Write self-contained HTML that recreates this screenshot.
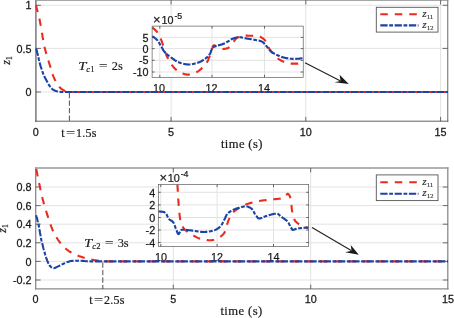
<!DOCTYPE html>
<html><head><meta charset="utf-8"><title>plot</title>
<style>html,body{margin:0;padding:0;background:#fff}body{width:454px;height:318px;overflow:hidden}</style></head>
<body>
<svg width="454" height="318" viewBox="0 0 454 318" style="display:block">
<rect width="454" height="318" fill="#fff"/>
<line x1="171.1" y1="0.3" x2="171.1" y2="121.3" stroke="#e3e3e3" stroke-width="1"/>
<line x1="305.8" y1="0.3" x2="305.8" y2="121.3" stroke="#e3e3e3" stroke-width="1"/>
<line x1="440.6" y1="0.3" x2="440.6" y2="121.3" stroke="#e3e3e3" stroke-width="1"/>
<line x1="35.9" y1="5.3" x2="448.0" y2="5.3" stroke="#e3e3e3" stroke-width="1"/>
<line x1="35.9" y1="48.4" x2="448.0" y2="48.4" stroke="#e3e3e3" stroke-width="1"/>
<line x1="35.9" y1="92.0" x2="448.0" y2="92.0" stroke="#e3e3e3" stroke-width="1"/>
<line x1="173.3" y1="168.2" x2="173.3" y2="289.0" stroke="#e3e3e3" stroke-width="1"/>
<line x1="310.7" y1="168.2" x2="310.7" y2="289.0" stroke="#e3e3e3" stroke-width="1"/>
<line x1="35.9" y1="187.0" x2="448.0" y2="187.0" stroke="#e3e3e3" stroke-width="1"/>
<line x1="35.9" y1="205.6" x2="448.0" y2="205.6" stroke="#e3e3e3" stroke-width="1"/>
<line x1="35.9" y1="224.2" x2="448.0" y2="224.2" stroke="#e3e3e3" stroke-width="1"/>
<line x1="35.9" y1="242.8" x2="448.0" y2="242.8" stroke="#e3e3e3" stroke-width="1"/>
<line x1="35.9" y1="261.4" x2="448.0" y2="261.4" stroke="#e3e3e3" stroke-width="1"/>
<line x1="35.9" y1="280.0" x2="448.0" y2="280.0" stroke="#e3e3e3" stroke-width="1"/>
<line x1="35.9" y1="-0.45" x2="35.9" y2="121.675" stroke="#828286" stroke-width="1.6"/>
<line x1="447.7" y1="-0.45" x2="447.7" y2="121.675" stroke="#8a8a8a" stroke-width="1.3"/>
<line x1="35.1" y1="0.2" x2="448.34999999999997" y2="0.2" stroke="#8a8a8a" stroke-width="1.3"/>
<line x1="35.1" y1="121.2" x2="448.34999999999997" y2="121.2" stroke="#5a5a5a" stroke-width="0.95"/>
<line x1="171.1" y1="121.2" x2="171.1" y2="116.9" stroke="#4a4a4a" stroke-width="0.8"/>
<line x1="171.1" y1="0.2" x2="171.1" y2="4.5" stroke="#4a4a4a" stroke-width="0.8"/>
<line x1="305.8" y1="121.2" x2="305.8" y2="116.9" stroke="#4a4a4a" stroke-width="0.8"/>
<line x1="305.8" y1="0.2" x2="305.8" y2="4.5" stroke="#4a4a4a" stroke-width="0.8"/>
<line x1="440.6" y1="121.2" x2="440.6" y2="116.9" stroke="#4a4a4a" stroke-width="0.8"/>
<line x1="440.6" y1="0.2" x2="440.6" y2="4.5" stroke="#4a4a4a" stroke-width="0.8"/>
<line x1="35.9" y1="5.3" x2="40.9" y2="5.3" stroke="#4a4a4a" stroke-width="0.8"/>
<line x1="447.7" y1="5.3" x2="442.7" y2="5.3" stroke="#4a4a4a" stroke-width="0.8"/>
<line x1="35.9" y1="48.4" x2="40.9" y2="48.4" stroke="#4a4a4a" stroke-width="0.8"/>
<line x1="447.7" y1="48.4" x2="442.7" y2="48.4" stroke="#4a4a4a" stroke-width="0.8"/>
<line x1="35.9" y1="92.0" x2="40.9" y2="92.0" stroke="#4a4a4a" stroke-width="0.8"/>
<line x1="447.7" y1="92.0" x2="442.7" y2="92.0" stroke="#4a4a4a" stroke-width="0.8"/>
<line x1="35.7" y1="167.35" x2="35.7" y2="289.54999999999995" stroke="#8a8a8a" stroke-width="1.3"/>
<line x1="447.8" y1="167.35" x2="447.8" y2="289.54999999999995" stroke="#8a8a8a" stroke-width="1.3"/>
<line x1="35.050000000000004" y1="168.0" x2="448.45" y2="168.0" stroke="#999" stroke-width="1.3"/>
<line x1="35.050000000000004" y1="288.9" x2="448.45" y2="288.9" stroke="#8a8a8a" stroke-width="1.3"/>
<line x1="173.3" y1="288.9" x2="173.3" y2="284.59999999999997" stroke="#4a4a4a" stroke-width="0.8"/>
<line x1="173.3" y1="168.0" x2="173.3" y2="172.3" stroke="#4a4a4a" stroke-width="0.8"/>
<line x1="310.7" y1="288.9" x2="310.7" y2="284.59999999999997" stroke="#4a4a4a" stroke-width="0.8"/>
<line x1="310.7" y1="168.0" x2="310.7" y2="172.3" stroke="#4a4a4a" stroke-width="0.8"/>
<line x1="35.7" y1="187.0" x2="40.7" y2="187.0" stroke="#4a4a4a" stroke-width="0.8"/>
<line x1="447.8" y1="187.0" x2="442.8" y2="187.0" stroke="#4a4a4a" stroke-width="0.8"/>
<line x1="35.7" y1="205.6" x2="40.7" y2="205.6" stroke="#4a4a4a" stroke-width="0.8"/>
<line x1="447.8" y1="205.6" x2="442.8" y2="205.6" stroke="#4a4a4a" stroke-width="0.8"/>
<line x1="35.7" y1="224.2" x2="40.7" y2="224.2" stroke="#4a4a4a" stroke-width="0.8"/>
<line x1="447.8" y1="224.2" x2="442.8" y2="224.2" stroke="#4a4a4a" stroke-width="0.8"/>
<line x1="35.7" y1="242.8" x2="40.7" y2="242.8" stroke="#4a4a4a" stroke-width="0.8"/>
<line x1="447.8" y1="242.8" x2="442.8" y2="242.8" stroke="#4a4a4a" stroke-width="0.8"/>
<line x1="35.7" y1="261.4" x2="40.7" y2="261.4" stroke="#4a4a4a" stroke-width="0.8"/>
<line x1="447.8" y1="261.4" x2="442.8" y2="261.4" stroke="#4a4a4a" stroke-width="0.8"/>
<line x1="35.7" y1="280.0" x2="40.7" y2="280.0" stroke="#4a4a4a" stroke-width="0.8"/>
<line x1="447.8" y1="280.0" x2="442.8" y2="280.0" stroke="#4a4a4a" stroke-width="0.8"/>
<g font-family="'Liberation Sans',sans-serif" font-size="10.8" text-anchor="middle" fill="#1a1a1a" stroke="#1a1a1a" stroke-width="0.22"><text x="159.1" y="91.7">10</text><text x="211.6" y="91.7">12</text><text x="264.1" y="91.7">14</text><text x="160.9" y="261.3">10</text><text x="217.1" y="261.3">12</text><text x="273.5" y="261.3">14</text></g>
<line x1="69.4" y1="93" x2="69.4" y2="121.3" stroke="#3a3a3a" stroke-width="0.9" stroke-dasharray="5.3 2.2"/>
<line x1="102.8" y1="262.4" x2="102.8" y2="289.0" stroke="#3a3a3a" stroke-width="0.9" stroke-dasharray="5.3 2.2"/>
<defs><clipPath id="c1"><rect x="34.9" y="-0.7" width="413.40000000000003" height="122.0"/></clipPath><clipPath id="c2"><rect x="34.9" y="167.2" width="413.40000000000003" height="121.80000000000001"/></clipPath>
<clipPath id="i1"><rect x="152.1" y="26.1" width="151.1" height="51.2"/></clipPath><clipPath id="i2"><rect x="158.3" y="184.6" width="150.4" height="61.9"/></clipPath></defs>
<path d="M36.0,5.3 L36.4,6.8 L36.8,8.4 L37.2,9.9 L37.6,11.5 L38.0,13.0 L38.4,14.5 L38.8,16.1 L39.1,17.6 L39.5,19.2 L39.8,20.7 L40.1,22.3 L40.4,23.9 L40.7,25.4 L40.9,27.0 L41.2,28.6 L41.5,30.1 L41.7,31.7 L42.0,33.3 L42.3,34.8 L42.5,36.4 L42.8,38.0 L43.1,39.5 L43.4,41.1 L43.7,42.7 L44.0,44.2 L44.3,45.8 L44.6,47.3 L45.0,48.9 L45.4,50.4 L45.8,52.0 L46.2,53.5 L46.7,55.0 L47.2,56.5 L47.6,58.1 L48.1,59.6 L48.6,61.1 L49.0,62.6 L49.5,64.1 L50.0,65.7 L50.4,67.2 L50.9,68.7 L51.4,70.2 L51.9,71.7 L52.3,73.3 L52.8,74.8 L53.4,76.3 L54.0,77.7 L54.6,79.2 L55.3,80.6 L56.1,82.1 L56.9,83.4 L57.7,84.8 L58.6,86.1 L59.7,87.3 L60.8,88.4 L62.0,89.4 L63.4,90.2 L64.9,90.9 L66.4,91.5 L67.9,91.8 L69.5,91.9 L71.1,92.0 L72.7,92.0 L74.3,92.0 L75.8,92.0 L77.4,92.0 L79.0,92.0 L80.6,92.0 L82.2,92.0 L83.8,92.0 L85.4,92.0 L87.0,92.0 L88.6,92.0 L90.1,92.0 L91.7,92.0 L93.3,92.0 L94.9,92.0 L96.5,92.0 L98.1,92.0 L99.7,92.0 L101.3,92.0 L102.9,92.0 L104.4,92.0 L106.0,92.0 L107.6,92.0 L109.2,92.0 L110.8,92.0 L112.4,92.0 L114.0,92.0 L115.6,92.0 L117.2,92.0 L118.8,92.0 L120.3,92.0 L121.9,92.0 L123.5,92.0 L125.1,92.0 L126.7,92.0 L128.3,92.0 L129.9,92.0 L131.5,92.0 L133.1,92.0 L134.6,92.0 L136.2,92.0 L137.8,92.0 L139.4,92.0 L141.0,92.0 L142.6,92.0 L144.2,92.0 L145.8,92.0 L147.4,92.0 L149.0,92.0 L150.5,92.0 L152.1,92.0 L153.7,92.0 L155.3,92.0 L156.9,92.0 L158.5,92.0 L160.1,92.0 L161.7,92.0 L163.3,92.0 L164.9,92.0 L166.4,92.0 L168.0,92.0 L169.6,92.0 L171.2,92.0 L172.8,92.0 L174.4,92.0 L176.0,92.0 L177.6,92.0 L179.2,92.0 L180.7,92.0 L182.3,92.0 L183.9,92.0 L185.5,92.0 L187.1,92.0 L188.7,92.0 L190.3,92.0 L191.9,92.0 L193.5,92.0 L195.1,92.0 L196.6,92.0 L198.2,92.0 L199.8,92.0 L201.4,92.0 L203.0,92.0 L204.6,92.0 L206.2,92.0 L207.8,92.0 L209.4,92.0 L211.0,92.0 L212.5,92.0 L214.1,92.0 L215.7,92.0 L217.3,92.0 L218.9,92.0 L220.5,92.0 L222.1,92.0 L223.7,92.0 L225.3,92.0 L226.9,92.0 L228.4,92.0 L230.0,92.0 L231.6,92.0 L233.2,92.0 L234.8,92.0 L236.4,92.0 L238.0,92.0 L239.6,92.0 L241.2,92.0 L242.8,92.0 L244.3,92.0 L245.9,92.0 L247.5,92.0 L249.1,92.0 L250.7,92.0 L252.3,92.0 L253.9,92.0 L255.5,92.0 L257.1,92.0 L258.7,92.0 L260.2,92.0 L261.8,92.0 L263.4,92.0 L265.0,92.0 L266.6,92.0 L268.2,92.0 L269.8,92.0 L271.4,92.0 L273.0,92.0 L274.6,92.0 L276.2,92.0 L277.7,92.0 L279.3,92.0 L280.9,92.0 L282.5,92.0 L284.1,92.0 L285.7,92.0 L287.3,92.0 L288.9,92.0 L290.5,92.0 L292.1,92.0 L293.6,92.0 L295.2,92.0 L296.8,92.0 L298.4,92.0 L300.0,92.0 L301.6,92.0 L303.2,92.0 L304.8,92.0 L306.4,92.0 L308.0,92.0 L309.6,92.0 L311.1,92.0 L312.7,92.0 L314.3,92.0 L315.9,92.0 L317.5,92.0 L319.1,92.0 L320.7,92.0 L322.3,92.0 L323.9,92.0 L325.5,92.0 L327.1,92.0 L328.6,92.0 L330.2,92.0 L331.8,92.0 L333.4,92.0 L335.0,92.0 L336.6,92.0 L338.2,92.0 L339.8,92.0 L341.4,92.0 L343.0,92.0 L344.6,92.0 L346.1,92.0 L347.7,92.0 L349.3,92.0 L350.9,92.0 L352.5,92.0 L354.1,92.0 L355.7,92.0 L357.3,92.0 L358.9,92.0 L360.5,92.0 L362.1,92.0 L363.6,92.0 L365.2,92.0 L366.8,92.0 L368.4,92.0 L370.0,92.0 L371.6,92.0 L373.2,92.0 L374.8,92.0 L376.4,92.0 L378.0,92.0 L379.6,92.0 L381.1,92.0 L382.7,92.0 L384.3,92.0 L385.9,92.0 L387.5,92.0 L389.1,92.0 L390.7,92.0 L392.3,92.0 L393.9,92.0 L395.5,92.0 L397.1,92.0 L398.7,92.0 L400.2,92.0 L401.8,92.0 L403.4,92.0 L405.0,92.0 L406.6,92.0 L408.2,92.0 L409.8,92.0 L411.4,92.0 L413.0,92.0 L414.6,92.0 L416.2,92.0 L417.8,92.0 L419.3,92.0 L420.9,92.0 L422.5,92.0 L424.1,92.0 L425.7,92.0 L427.3,92.0 L428.9,92.0 L430.5,92.0 L432.1,92.0 L433.7,92.0 L435.3,92.0 L436.9,92.0 L438.4,92.0 L440.0,92.0 L441.6,92.0 L443.2,92.0 L444.8,92.0 L446.4,92.0 L448.0,92.0" fill="none" stroke="#ec2b1d" stroke-width="2.1" stroke-dasharray="7.5 6.8" stroke-dashoffset="0.56" stroke-linejoin="round" clip-path="url(#c1)"/>
<path d="M36.0,48.3 L36.5,49.7 L36.9,51.1 L37.2,52.5 L37.6,54.0 L38.0,55.4 L38.3,56.8 L38.6,58.3 L38.9,59.7 L39.3,61.2 L39.6,62.6 L40.0,64.0 L40.4,65.4 L40.8,66.8 L41.3,68.2 L41.7,69.6 L42.2,71.1 L42.7,72.4 L43.2,73.8 L43.7,75.2 L44.4,76.5 L45.0,77.8 L45.8,79.1 L46.5,80.4 L47.2,81.7 L47.9,83.0 L48.6,84.3 L49.4,85.6 L50.2,86.7 L51.2,87.9 L52.2,89.0 L53.4,89.9 L54.6,90.5 L56.0,91.0 L57.5,91.4 L58.9,91.7 L60.4,91.9 L61.9,92.0 L63.4,92.0 L64.8,92.0 L66.3,92.0 L67.8,92.0 L69.2,92.0 L70.7,92.0 L72.2,92.0 L73.6,92.0 L75.1,92.0 L76.6,92.0 L78.0,92.0 L79.5,92.0 L81.0,92.0 L82.4,92.0 L83.9,92.0 L85.4,92.0 L86.8,92.0 L88.3,92.0 L89.8,92.0 L91.3,92.0 L92.7,92.0 L94.2,92.0 L95.7,92.0 L97.1,92.0 L98.6,92.0 L100.1,92.0 L101.5,92.0 L103.0,92.0 L104.5,92.0 L105.9,92.0 L107.4,92.0 L108.9,92.0 L110.3,92.0 L111.8,92.0 L113.3,92.0 L114.8,92.0 L116.2,92.0 L117.7,92.0 L119.2,92.0 L120.6,92.0 L122.1,92.0 L123.6,92.0 L125.0,92.0 L126.5,92.0 L128.0,92.0 L129.4,92.0 L130.9,92.0 L132.4,92.0 L133.9,92.0 L135.3,92.0 L136.8,92.0 L138.3,92.0 L139.7,92.0 L141.2,92.0 L142.7,92.0 L144.1,92.0 L145.6,92.0 L147.1,92.0 L148.5,92.0 L150.0,92.0 L151.5,92.0 L153.0,92.0 L154.4,92.0 L155.9,92.0 L157.4,92.0 L158.8,92.0 L160.3,92.0 L161.8,92.0 L163.2,92.0 L164.7,92.0 L166.2,92.0 L167.7,92.0 L169.1,92.0 L170.6,92.0 L172.1,92.0 L173.5,92.0 L175.0,92.0 L176.5,92.0 L178.0,92.0 L179.4,92.0 L180.9,92.0 L182.4,92.0 L183.8,92.0 L185.3,92.0 L186.8,92.0 L188.2,92.0 L189.7,92.0 L191.2,92.0 L192.7,92.0 L194.1,92.0 L195.6,92.0 L197.1,92.0 L198.5,92.0 L200.0,92.0 L201.5,92.0 L203.0,92.0 L204.4,92.0 L205.9,92.0 L207.4,92.0 L208.8,92.0 L210.3,92.0 L211.8,92.0 L213.3,92.0 L214.7,92.0 L216.2,92.0 L217.7,92.0 L219.1,92.0 L220.6,92.0 L222.1,92.0 L223.6,92.0 L225.0,92.0 L226.5,92.0 L228.0,92.0 L229.4,92.0 L230.9,92.0 L232.4,92.0 L233.9,92.0 L235.3,92.0 L236.8,92.0 L238.3,92.0 L239.8,92.0 L241.2,92.0 L242.7,92.0 L244.2,92.0 L245.6,92.0 L247.1,92.0 L248.6,92.0 L250.1,92.0 L251.5,92.0 L253.0,92.0 L254.5,92.0 L256.0,92.0 L257.4,92.0 L258.9,92.0 L260.4,92.0 L261.8,92.0 L263.3,92.0 L264.8,92.0 L266.3,92.0 L267.7,92.0 L269.2,92.0 L270.7,92.0 L272.2,92.0 L273.6,92.0 L275.1,92.0 L276.6,92.0 L278.1,92.0 L279.5,92.0 L281.0,92.0 L282.5,92.0 L284.0,92.0 L285.4,92.0 L286.9,92.0 L288.4,92.0 L289.8,92.0 L291.3,92.0 L292.8,92.0 L294.3,92.0 L295.7,92.0 L297.2,92.0 L298.7,92.0 L300.2,92.0 L301.6,92.0 L303.1,92.0 L304.6,92.0 L306.1,92.0 L307.5,92.0 L309.0,92.0 L310.5,92.0 L312.0,92.0 L313.4,92.0 L314.9,92.0 L316.4,92.0 L317.9,92.0 L319.3,92.0 L320.8,92.0 L322.3,92.0 L323.8,92.0 L325.3,92.0 L326.7,92.0 L328.2,92.0 L329.7,92.0 L331.2,92.0 L332.6,92.0 L334.1,92.0 L335.6,92.0 L337.1,92.0 L338.5,92.0 L340.0,92.0 L341.5,92.0 L343.0,92.0 L344.4,92.0 L345.9,92.0 L347.4,92.0 L348.9,92.0 L350.4,92.0 L351.8,92.0 L353.3,92.0 L354.8,92.0 L356.3,92.0 L357.7,92.0 L359.2,92.0 L360.7,92.0 L362.2,92.0 L363.6,92.0 L365.1,92.0 L366.6,92.0 L368.1,92.0 L369.6,92.0 L371.0,92.0 L372.5,92.0 L374.0,92.0 L375.5,92.0 L377.0,92.0 L378.4,92.0 L379.9,92.0 L381.4,92.0 L382.9,92.0 L384.3,92.0 L385.8,92.0 L387.3,92.0 L388.8,92.0 L390.3,92.0 L391.7,92.0 L393.2,92.0 L394.7,92.0 L396.2,92.0 L397.7,92.0 L399.1,92.0 L400.6,92.0 L402.1,92.0 L403.6,92.0 L405.1,92.0 L406.5,92.0 L408.0,92.0 L409.5,92.0 L411.0,92.0 L412.5,92.0 L413.9,92.0 L415.4,92.0 L416.9,92.0 L418.4,92.0 L419.9,92.0 L421.3,92.0 L422.8,92.0 L424.3,92.0 L425.8,92.0 L427.3,92.0 L428.7,92.0 L430.2,92.0 L431.7,92.0 L433.2,92.0 L434.7,92.0 L436.1,92.0 L437.6,92.0 L439.1,92.0 L440.6,92.0 L442.1,92.0 L443.6,92.0 L445.0,92.0 L446.5,92.0 L448.0,92.0" fill="none" stroke="#1b43a5" stroke-width="2.1" stroke-dasharray="7.3 1.6 3.8 1.6" stroke-dashoffset="13.89" stroke-linejoin="round" clip-path="url(#c1)"/>
<path d="M36.0,167.6 L36.3,169.2 L36.6,170.7 L36.9,172.3 L37.2,173.8 L37.5,175.4 L37.8,176.9 L38.2,178.4 L38.5,180.0 L38.8,181.5 L39.1,183.1 L39.4,184.6 L39.8,186.2 L40.1,187.7 L40.4,189.3 L40.8,190.8 L41.1,192.4 L41.5,193.9 L41.8,195.4 L42.2,197.0 L42.5,198.5 L42.9,200.1 L43.3,201.6 L43.7,203.1 L44.1,204.6 L44.6,206.2 L45.0,207.7 L45.5,209.2 L46.0,210.7 L46.5,212.2 L46.9,213.7 L47.4,215.2 L47.9,216.7 L48.4,218.2 L48.8,219.7 L49.3,221.2 L49.8,222.7 L50.4,224.2 L50.9,225.7 L51.5,227.2 L52.1,228.6 L52.7,230.1 L53.3,231.5 L54.0,233.0 L54.7,234.4 L55.5,235.7 L56.3,237.1 L57.2,238.5 L58.0,239.8 L59.0,241.1 L59.9,242.3 L60.9,243.6 L61.9,244.8 L62.9,246.0 L64.0,247.2 L65.2,248.2 L66.4,249.2 L67.6,250.2 L68.9,251.1 L70.3,252.0 L71.6,252.8 L73.0,253.5 L74.4,254.2 L75.9,254.8 L77.4,255.4 L78.8,256.0 L80.3,256.5 L81.8,257.0 L83.3,257.5 L84.9,257.9 L86.4,258.3 L87.9,258.7 L89.5,259.0 L91.0,259.4 L92.6,259.7 L94.1,260.0 L95.7,260.2 L97.2,260.5 L98.8,260.9 L100.3,261.2 L101.9,261.4 L103.5,261.4 L105.1,261.4 L106.6,261.4 L108.2,261.4 L109.8,261.4 L111.4,261.4 L113.0,261.4 L114.5,261.4 L116.1,261.4 L117.7,261.4 L119.3,261.4 L120.9,261.4 L122.4,261.4 L124.0,261.4 L125.6,261.4 L127.2,261.4 L128.8,261.4 L130.4,261.4 L131.9,261.4 L133.5,261.4 L135.1,261.4 L136.7,261.4 L138.3,261.4 L139.8,261.4 L141.4,261.4 L143.0,261.4 L144.6,261.4 L146.2,261.4 L147.7,261.4 L149.3,261.4 L150.9,261.4 L152.5,261.4 L154.1,261.4 L155.6,261.4 L157.2,261.4 L158.8,261.4 L160.4,261.4 L162.0,261.4 L163.5,261.4 L165.1,261.4 L166.7,261.4 L168.3,261.4 L169.9,261.4 L171.4,261.4 L173.0,261.4 L174.6,261.4 L176.2,261.4 L177.8,261.4 L179.3,261.4 L180.9,261.4 L182.5,261.4 L184.1,261.4 L185.7,261.4 L187.2,261.4 L188.8,261.4 L190.4,261.4 L192.0,261.4 L193.6,261.4 L195.1,261.4 L196.7,261.4 L198.3,261.4 L199.9,261.4 L201.5,261.4 L203.0,261.4 L204.6,261.4 L206.2,261.4 L207.8,261.4 L209.4,261.4 L210.9,261.4 L212.5,261.4 L214.1,261.4 L215.7,261.4 L217.3,261.4 L218.8,261.4 L220.4,261.4 L222.0,261.4 L223.6,261.4 L225.2,261.4 L226.8,261.4 L228.3,261.4 L229.9,261.4 L231.5,261.4 L233.1,261.4 L234.7,261.4 L236.2,261.4 L237.8,261.4 L239.4,261.4 L241.0,261.4 L242.6,261.4 L244.1,261.4 L245.7,261.4 L247.3,261.4 L248.9,261.4 L250.5,261.4 L252.0,261.4 L253.6,261.4 L255.2,261.4 L256.8,261.4 L258.4,261.4 L259.9,261.4 L261.5,261.4 L263.1,261.4 L264.7,261.4 L266.3,261.4 L267.8,261.4 L269.4,261.4 L271.0,261.4 L272.6,261.4 L274.2,261.4 L275.7,261.4 L277.3,261.4 L278.9,261.4 L280.5,261.4 L282.1,261.4 L283.6,261.4 L285.2,261.4 L286.8,261.4 L288.4,261.4 L290.0,261.4 L291.5,261.4 L293.1,261.4 L294.7,261.4 L296.3,261.4 L297.9,261.4 L299.4,261.4 L301.0,261.4 L302.6,261.4 L304.2,261.4 L305.8,261.4 L307.3,261.4 L308.9,261.4 L310.5,261.4 L312.1,261.4 L313.7,261.4 L315.3,261.4 L316.8,261.4 L318.4,261.4 L320.0,261.4 L321.6,261.4 L323.2,261.4 L324.7,261.4 L326.3,261.4 L327.9,261.4 L329.5,261.4 L331.1,261.4 L332.6,261.4 L334.2,261.4 L335.8,261.4 L337.4,261.4 L339.0,261.4 L340.5,261.4 L342.1,261.4 L343.7,261.4 L345.3,261.4 L346.9,261.4 L348.4,261.4 L350.0,261.4 L351.6,261.4 L353.2,261.4 L354.8,261.4 L356.3,261.4 L357.9,261.4 L359.5,261.4 L361.1,261.4 L362.7,261.4 L364.2,261.4 L365.8,261.4 L367.4,261.4 L369.0,261.4 L370.6,261.4 L372.1,261.4 L373.7,261.4 L375.3,261.4 L376.9,261.4 L378.5,261.4 L380.0,261.4 L381.6,261.4 L383.2,261.4 L384.8,261.4 L386.4,261.4 L387.9,261.4 L389.5,261.4 L391.1,261.4 L392.7,261.4 L394.3,261.4 L395.8,261.4 L397.4,261.4 L399.0,261.4 L400.6,261.4 L402.2,261.4 L403.8,261.4 L405.3,261.4 L406.9,261.4 L408.5,261.4 L410.1,261.4 L411.7,261.4 L413.2,261.4 L414.8,261.4 L416.4,261.4 L418.0,261.4 L419.6,261.4 L421.1,261.4 L422.7,261.4 L424.3,261.4 L425.9,261.4 L427.5,261.4 L429.0,261.4 L430.6,261.4 L432.2,261.4 L433.8,261.4 L435.4,261.4 L436.9,261.4 L438.5,261.4 L440.1,261.4 L441.7,261.4 L443.3,261.4 L444.8,261.4 L446.4,261.4 L448.0,261.4" fill="none" stroke="#ec2b1d" stroke-width="2.1" stroke-dasharray="7.5 6.8" stroke-dashoffset="12.90" stroke-linejoin="round" clip-path="url(#c2)"/>
<path d="M36.0,215.0 L36.4,216.5 L36.9,217.9 L37.3,219.4 L37.6,220.8 L38.0,222.3 L38.4,223.8 L38.7,225.3 L39.0,226.7 L39.3,228.2 L39.5,229.7 L39.8,231.2 L40.0,232.7 L40.3,234.2 L40.6,235.7 L40.8,237.2 L41.1,238.7 L41.4,240.2 L41.8,241.6 L42.1,243.1 L42.5,244.6 L42.9,246.1 L43.2,247.5 L43.6,249.0 L44.1,250.5 L44.5,251.9 L44.9,253.4 L45.3,254.8 L45.8,256.3 L46.2,257.8 L46.7,259.2 L47.2,260.6 L47.8,262.0 L48.4,263.4 L49.2,264.8 L50.0,266.1 L51.0,267.1 L52.4,267.9 L53.8,268.2 L55.2,267.8 L56.6,267.1 L58.1,266.4 L59.4,265.8 L60.8,265.1 L62.1,264.4 L63.5,263.7 L64.9,263.1 L66.3,262.5 L67.7,261.9 L69.2,261.4 L70.6,261.0 L72.1,260.9 L73.6,260.8 L75.1,260.8 L76.6,260.7 L78.2,260.7 L79.7,260.7 L81.2,260.8 L82.7,260.9 L84.2,261.0 L85.7,261.2 L87.2,261.3 L88.7,261.4 L90.3,261.4 L91.8,261.4 L93.3,261.4 L94.8,261.4 L96.3,261.4 L97.8,261.4 L99.3,261.4 L100.9,261.4 L102.4,261.4 L103.9,261.4 L105.4,261.4 L106.9,261.4 L108.4,261.4 L109.9,261.4 L111.5,261.4 L113.0,261.4 L114.5,261.4 L116.0,261.4 L117.5,261.4 L119.0,261.4 L120.5,261.4 L122.1,261.4 L123.6,261.4 L125.1,261.4 L126.6,261.4 L128.1,261.4 L129.6,261.4 L131.1,261.4 L132.7,261.4 L134.2,261.4 L135.7,261.4 L137.2,261.4 L138.7,261.4 L140.2,261.4 L141.7,261.4 L143.3,261.4 L144.8,261.4 L146.3,261.4 L147.8,261.4 L149.3,261.4 L150.8,261.4 L152.3,261.4 L153.9,261.4 L155.4,261.4 L156.9,261.4 L158.4,261.4 L159.9,261.4 L161.4,261.4 L162.9,261.4 L164.5,261.4 L166.0,261.4 L167.5,261.4 L169.0,261.4 L170.5,261.4 L172.0,261.4 L173.5,261.4 L175.1,261.4 L176.6,261.4 L178.1,261.4 L179.6,261.4 L181.1,261.4 L182.6,261.4 L184.1,261.4 L185.7,261.4 L187.2,261.4 L188.7,261.4 L190.2,261.4 L191.7,261.4 L193.2,261.4 L194.7,261.4 L196.3,261.4 L197.8,261.4 L199.3,261.4 L200.8,261.4 L202.3,261.4 L203.8,261.4 L205.3,261.4 L206.9,261.4 L208.4,261.4 L209.9,261.4 L211.4,261.4 L212.9,261.4 L214.4,261.4 L215.9,261.4 L217.5,261.4 L219.0,261.4 L220.5,261.4 L222.0,261.4 L223.5,261.4 L225.0,261.4 L226.6,261.4 L228.1,261.4 L229.6,261.4 L231.1,261.4 L232.6,261.4 L234.1,261.4 L235.6,261.4 L237.2,261.4 L238.7,261.4 L240.2,261.4 L241.7,261.4 L243.2,261.4 L244.7,261.4 L246.3,261.4 L247.8,261.4 L249.3,261.4 L250.8,261.4 L252.3,261.4 L253.8,261.4 L255.3,261.4 L256.9,261.4 L258.4,261.4 L259.9,261.4 L261.4,261.4 L262.9,261.4 L264.4,261.4 L266.0,261.4 L267.5,261.4 L269.0,261.4 L270.5,261.4 L272.0,261.4 L273.5,261.4 L275.0,261.4 L276.6,261.4 L278.1,261.4 L279.6,261.4 L281.1,261.4 L282.6,261.4 L284.1,261.4 L285.7,261.4 L287.2,261.4 L288.7,261.4 L290.2,261.4 L291.7,261.4 L293.2,261.4 L294.8,261.4 L296.3,261.4 L297.8,261.4 L299.3,261.4 L300.8,261.4 L302.3,261.4 L303.8,261.4 L305.4,261.4 L306.9,261.4 L308.4,261.4 L309.9,261.4 L311.4,261.4 L312.9,261.4 L314.5,261.4 L316.0,261.4 L317.5,261.4 L319.0,261.4 L320.5,261.4 L322.0,261.4 L323.6,261.4 L325.1,261.4 L326.6,261.4 L328.1,261.4 L329.6,261.4 L331.1,261.4 L332.7,261.4 L334.2,261.4 L335.7,261.4 L337.2,261.4 L338.7,261.4 L340.2,261.4 L341.8,261.4 L343.3,261.4 L344.8,261.4 L346.3,261.4 L347.8,261.4 L349.3,261.4 L350.9,261.4 L352.4,261.4 L353.9,261.4 L355.4,261.4 L356.9,261.4 L358.4,261.4 L360.0,261.4 L361.5,261.4 L363.0,261.4 L364.5,261.4 L366.0,261.4 L367.5,261.4 L369.1,261.4 L370.6,261.4 L372.1,261.4 L373.6,261.4 L375.1,261.4 L376.7,261.4 L378.2,261.4 L379.7,261.4 L381.2,261.4 L382.7,261.4 L384.2,261.4 L385.8,261.4 L387.3,261.4 L388.8,261.4 L390.3,261.4 L391.8,261.4 L393.3,261.4 L394.9,261.4 L396.4,261.4 L397.9,261.4 L399.4,261.4 L400.9,261.4 L402.5,261.4 L404.0,261.4 L405.5,261.4 L407.0,261.4 L408.5,261.4 L410.0,261.4 L411.6,261.4 L413.1,261.4 L414.6,261.4 L416.1,261.4 L417.6,261.4 L419.1,261.4 L420.7,261.4 L422.2,261.4 L423.7,261.4 L425.2,261.4 L426.7,261.4 L428.3,261.4 L429.8,261.4 L431.3,261.4 L432.8,261.4 L434.3,261.4 L435.9,261.4 L437.4,261.4 L438.9,261.4 L440.4,261.4 L441.9,261.4 L443.4,261.4 L445.0,261.4 L446.5,261.4 L448.0,261.4" fill="none" stroke="#1b43a5" stroke-width="2.1" stroke-dasharray="7.3 1.6 3.8 1.6" stroke-dashoffset="14.10" stroke-linejoin="round" clip-path="url(#c2)"/>
<rect x="152.1" y="26.1" width="151.1" height="51.2" fill="#fff"/>
<line x1="159.8" y1="26.1" x2="159.8" y2="77.30000000000001" stroke="#e3e3e3" stroke-width="1"/>
<line x1="212" y1="26.1" x2="212" y2="77.30000000000001" stroke="#e3e3e3" stroke-width="1"/>
<line x1="264.5" y1="26.1" x2="264.5" y2="77.30000000000001" stroke="#e3e3e3" stroke-width="1"/>
<line x1="152.1" y1="37.4" x2="303.2" y2="37.4" stroke="#e3e3e3" stroke-width="1"/>
<line x1="152.1" y1="48.6" x2="303.2" y2="48.6" stroke="#e3e3e3" stroke-width="1"/>
<line x1="152.1" y1="60.3" x2="303.2" y2="60.3" stroke="#e3e3e3" stroke-width="1"/>
<line x1="152.1" y1="72.0" x2="303.2" y2="72.0" stroke="#e3e3e3" stroke-width="1"/>
<path d="M152.1,27.5 L152.6,27.8 L153.0,28.1 L153.4,28.5 L153.9,28.8 L154.3,29.1 L154.7,29.5 L155.1,29.8 L155.5,30.2 L155.8,30.6 L156.2,30.9 L156.5,31.3 L156.9,31.7 L157.2,32.1 L157.5,32.5 L157.7,33.0 L158.0,33.4 L158.3,33.8 L158.6,34.3 L158.8,34.8 L159.1,35.2 L159.3,35.7 L159.5,36.2 L159.8,36.7 L160.0,37.2 L160.2,37.7 L160.4,38.2 L160.7,38.7 L160.9,39.2 L161.1,39.7 L161.3,40.1 L161.5,40.6 L161.7,41.1 L161.9,41.6 L162.0,42.1 L162.2,42.6 L162.4,43.1 L162.6,43.6 L162.7,44.1 L162.9,44.6 L163.0,45.1 L163.2,45.6 L163.3,46.2 L163.5,46.7 L163.6,47.2 L163.8,47.7 L163.9,48.2 L164.1,48.7 L164.2,49.2 L164.4,49.7 L164.5,50.2 L164.7,50.7 L164.9,51.2 L165.0,51.7 L165.2,52.2 L165.4,52.7 L165.6,53.2 L165.8,53.7 L166.0,54.2 L166.2,54.7 L166.4,55.2 L166.6,55.6 L166.8,56.1 L167.1,56.6 L167.3,57.1 L167.5,57.6 L167.8,58.1 L168.0,58.5 L168.2,59.0 L168.5,59.5 L168.8,60.0 L169.0,60.5 L169.3,60.9 L169.5,61.4 L169.8,61.8 L170.1,62.3 L170.4,62.8 L170.7,63.2 L171.0,63.6 L171.2,64.1 L171.5,64.5 L171.8,64.9 L172.2,65.4 L172.5,65.8 L172.8,66.2 L173.1,66.6 L173.4,67.0 L173.8,67.4 L174.1,67.8 L174.5,68.2 L174.9,68.6 L175.3,69.0 L175.7,69.4 L176.1,69.7 L176.5,70.1 L176.9,70.5 L177.3,70.8 L177.7,71.2 L178.2,71.5 L178.6,71.7 L179.0,72.0 L179.5,72.3 L179.9,72.5 L180.4,72.7 L180.8,72.9 L181.3,73.1 L181.8,73.2 L182.3,73.4 L182.8,73.6 L183.4,73.8 L183.9,73.9 L184.4,74.1 L184.9,74.2 L185.5,74.3 L186.0,74.4 L186.5,74.5 L187.1,74.6 L187.6,74.6 L188.1,74.6 L188.6,74.6 L189.1,74.5 L189.7,74.5 L190.2,74.4 L190.7,74.2 L191.2,74.1 L191.8,74.0 L192.3,73.8 L192.8,73.6 L193.3,73.5 L193.8,73.3 L194.3,73.1 L194.8,72.9 L195.3,72.7 L195.8,72.5 L196.2,72.3 L196.7,72.1 L197.1,71.8 L197.6,71.6 L198.1,71.3 L198.5,71.0 L198.9,70.7 L199.4,70.4 L199.8,70.0 L200.2,69.7 L200.6,69.3 L201.1,69.0 L201.5,68.6 L201.8,68.2 L202.2,67.9 L202.6,67.5 L203.0,67.1 L203.3,66.8 L203.7,66.4 L204.0,66.0 L204.4,65.6 L204.7,65.2 L205.1,64.8 L205.4,64.3 L205.7,63.9 L206.0,63.5 L206.4,63.0 L206.7,62.6 L207.0,62.1 L207.2,61.7 L207.5,61.2 L207.8,60.8 L208.0,60.3 L208.2,59.8 L208.4,59.4 L208.6,58.9 L208.8,58.4 L209.0,57.9 L209.2,57.4 L209.4,56.9 L209.6,56.4 L209.7,55.9 L209.9,55.4 L210.0,54.9 L210.2,54.4 L210.4,53.9 L210.5,53.4 L210.7,52.9 L210.8,52.4 L211.0,51.9 L211.2,51.3 L211.4,50.8 L211.6,50.4 L211.8,49.9 L211.9,49.3 L212.1,48.7 L212.3,48.1 L212.5,47.4 L212.7,46.8 L212.9,46.3 L213.2,45.8 L213.4,45.5 L213.7,45.2 L214.0,45.2 L214.4,45.3 L214.8,45.4 L215.3,45.6 L215.8,45.9 L216.4,46.2 L216.9,46.5 L217.4,46.7 L217.9,47.0 L218.4,47.2 L218.9,47.5 L219.3,47.8 L219.8,48.1 L220.3,48.4 L220.8,48.6 L221.2,48.8 L221.7,49.0 L222.2,49.0 L222.7,49.0 L223.3,49.0 L223.8,48.9 L224.4,48.9 L224.9,48.8 L225.5,48.7 L226.0,48.6 L226.5,48.5 L227.0,48.4 L227.5,48.3 L227.9,48.2 L228.3,48.0 L228.7,47.7 L229.1,47.4 L229.5,47.1 L229.8,46.7 L230.2,46.2 L230.5,45.8 L230.8,45.3 L231.2,44.8 L231.5,44.3 L231.8,43.9 L232.2,43.4 L232.5,42.9 L232.9,42.5 L233.2,42.1 L233.6,41.7 L233.9,41.3 L234.2,40.8 L234.6,40.4 L234.9,39.9 L235.3,39.5 L235.6,39.1 L236.0,38.7 L236.3,38.4 L236.7,38.1 L237.1,37.8 L237.6,37.6 L238.0,37.3 L238.5,37.1 L238.9,36.9 L239.4,36.7 L239.9,36.5 L240.5,36.3 L241.0,36.2 L241.5,36.0 L242.1,35.9 L242.6,35.8 L243.1,35.7 L243.7,35.6 L244.2,35.6 L244.7,35.6 L245.2,35.6 L245.8,35.6 L246.3,35.6 L246.8,35.6 L247.3,35.6 L247.9,35.7 L248.4,35.7 L248.9,35.7 L249.5,35.7 L250.0,35.7 L250.5,35.8 L251.1,35.8 L251.6,35.8 L252.1,35.8 L252.7,35.9 L253.2,35.9 L253.7,35.9 L254.3,36.0 L254.8,36.0 L255.4,36.1 L255.9,36.1 L256.4,36.2 L256.9,36.3 L257.5,36.4 L258.0,36.4 L258.5,36.5 L259.0,36.6 L259.5,36.7 L260.0,36.8 L260.5,37.0 L261.0,37.2 L261.5,37.5 L261.9,37.8 L262.4,38.1 L262.9,38.4 L263.3,38.7 L263.7,39.1 L264.1,39.4 L264.5,39.8 L264.8,40.1 L265.1,40.5 L265.4,40.9 L265.6,41.4 L265.9,41.8 L266.1,42.3 L266.3,42.8 L266.5,43.3 L266.7,43.8 L267.0,44.3 L267.2,44.8 L267.4,45.3 L267.6,45.8 L267.9,46.3 L268.1,46.8 L268.4,47.2 L268.7,47.7 L269.0,48.1 L269.2,48.6 L269.5,49.0 L269.8,49.5 L270.1,49.9 L270.5,50.3 L270.8,50.8 L271.1,51.2 L271.4,51.6 L271.7,52.0 L272.1,52.4 L272.4,52.8 L272.7,53.2 L273.1,53.6 L273.4,54.0 L273.8,54.4 L274.1,54.8 L274.5,55.2 L274.8,55.6 L275.2,56.0 L275.6,56.4 L276.0,56.8 L276.4,57.1 L276.8,57.5 L277.2,57.8 L277.6,58.1 L278.0,58.5 L278.4,58.8 L278.8,59.1 L279.3,59.4 L279.7,59.7 L280.2,60.0 L280.6,60.2 L281.1,60.5 L281.6,60.8 L282.0,61.0 L282.5,61.2 L283.0,61.5 L283.5,61.6 L283.9,61.9 L284.4,62.1 L284.9,62.3 L285.4,62.5 L285.9,62.7 L286.5,62.8 L287.0,63.0 L287.5,63.2 L288.0,63.3 L288.5,63.4 L289.0,63.5 L289.6,63.6 L290.1,63.6 L290.6,63.6 L291.1,63.6 L291.6,63.6 L292.2,63.6 L292.7,63.6 L293.2,63.6 L293.8,63.6 L294.3,63.6 L294.8,63.6 L295.4,63.6 L295.9,63.6 L296.4,63.6 L297.0,63.6 L297.5,63.6 L298.0,63.6 L298.5,63.5 L299.0,63.5 L299.6,63.4 L300.1,63.3 L300.6,63.2 L301.1,63.0 L301.6,62.9 L302.2,62.8 L302.7,62.6 L303.2,62.5" fill="none" stroke="#ec2b1d" stroke-width="2.1" stroke-dasharray="7.5 6.8" stroke-linejoin="round" clip-path="url(#i1)"/>
<path d="M152.1,36.3 L152.5,36.5 L152.9,36.8 L153.3,37.0 L153.7,37.2 L154.1,37.5 L154.5,37.7 L154.8,38.0 L155.2,38.3 L155.5,38.5 L155.9,38.8 L156.2,39.1 L156.5,39.4 L156.8,39.7 L157.1,40.0 L157.4,40.3 L157.7,40.7 L157.9,41.0 L158.2,41.4 L158.5,41.7 L158.7,42.1 L158.9,42.5 L159.2,42.9 L159.4,43.3 L159.6,43.7 L159.9,44.1 L160.1,44.5 L160.3,44.9 L160.5,45.3 L160.8,45.7 L161.0,46.0 L161.2,46.4 L161.5,46.8 L161.7,47.2 L161.9,47.6 L162.1,48.0 L162.3,48.4 L162.6,48.8 L162.8,49.2 L163.0,49.6 L163.2,50.0 L163.4,50.4 L163.7,50.7 L163.9,51.1 L164.2,51.4 L164.5,51.8 L164.8,52.1 L165.1,52.4 L165.4,52.7 L165.7,53.1 L166.0,53.4 L166.3,53.7 L166.6,54.0 L167.0,54.3 L167.3,54.6 L167.7,54.9 L168.0,55.2 L168.4,55.5 L168.7,55.7 L169.1,56.0 L169.5,56.3 L169.8,56.6 L170.2,56.8 L170.5,57.1 L170.9,57.4 L171.3,57.6 L171.6,57.9 L172.0,58.1 L172.3,58.4 L172.7,58.7 L173.1,58.9 L173.5,59.2 L173.8,59.5 L174.2,59.7 L174.6,60.0 L175.0,60.3 L175.3,60.5 L175.7,60.8 L176.1,61.0 L176.5,61.2 L176.9,61.5 L177.3,61.7 L177.7,61.9 L178.1,62.1 L178.5,62.2 L178.9,62.4 L179.3,62.6 L179.7,62.7 L180.1,62.8 L180.5,63.0 L180.9,63.1 L181.4,63.2 L181.8,63.3 L182.2,63.4 L182.7,63.6 L183.1,63.7 L183.6,63.8 L184.0,63.9 L184.4,64.0 L184.9,64.1 L185.3,64.2 L185.8,64.2 L186.2,64.3 L186.7,64.4 L187.1,64.4 L187.6,64.5 L188.0,64.5 L188.5,64.5 L188.9,64.5 L189.3,64.5 L189.8,64.5 L190.2,64.4 L190.7,64.4 L191.1,64.3 L191.6,64.3 L192.0,64.2 L192.5,64.1 L192.9,64.0 L193.3,63.9 L193.8,63.8 L194.2,63.7 L194.7,63.6 L195.1,63.5 L195.5,63.4 L196.0,63.3 L196.4,63.1 L196.8,63.0 L197.3,62.9 L197.7,62.8 L198.1,62.6 L198.5,62.5 L198.9,62.3 L199.3,62.2 L199.8,62.0 L200.2,61.8 L200.6,61.6 L201.0,61.4 L201.4,61.2 L201.8,61.0 L202.2,60.7 L202.6,60.5 L203.0,60.3 L203.3,60.0 L203.7,59.8 L204.1,59.6 L204.5,59.3 L204.8,59.1 L205.2,58.8 L205.5,58.5 L205.9,58.2 L206.2,58.0 L206.6,57.7 L206.9,57.4 L207.3,57.1 L207.6,56.7 L207.9,56.4 L208.2,56.1 L208.6,55.7 L208.9,55.4 L209.1,55.1 L209.4,54.7 L209.7,54.4 L209.9,54.0 L210.1,53.6 L210.3,53.2 L210.5,52.8 L210.7,52.4 L210.8,51.9 L211.0,51.5 L211.1,51.0 L211.3,50.5 L211.4,50.1 L211.6,49.6 L211.7,49.2 L211.9,48.8 L212.1,48.5 L212.3,48.1 L212.6,47.8 L212.8,47.6 L213.2,47.3 L213.5,47.1 L213.9,46.9 L214.4,46.7 L214.8,46.5 L215.3,46.3 L215.7,46.2 L216.1,46.0 L216.5,45.8 L217.0,45.7 L217.4,45.6 L217.8,45.5 L218.3,45.4 L218.7,45.2 L219.1,45.1 L219.6,45.0 L220.0,44.9 L220.4,44.8 L220.9,44.7 L221.3,44.6 L221.7,44.5 L222.2,44.3 L222.6,44.2 L223.0,44.0 L223.4,43.8 L223.8,43.7 L224.2,43.5 L224.6,43.3 L225.0,43.1 L225.4,42.9 L225.8,42.7 L226.2,42.5 L226.6,42.2 L227.0,42.0 L227.4,41.8 L227.8,41.6 L228.2,41.3 L228.6,41.1 L228.9,40.9 L229.3,40.7 L229.7,40.4 L230.1,40.2 L230.5,39.9 L230.8,39.7 L231.2,39.4 L231.6,39.2 L232.0,39.0 L232.4,38.8 L232.8,38.7 L233.2,38.5 L233.6,38.4 L234.1,38.2 L234.5,38.1 L234.9,37.9 L235.4,37.8 L235.8,37.7 L236.3,37.6 L236.7,37.5 L237.1,37.4 L237.6,37.3 L238.0,37.3 L238.5,37.2 L238.9,37.2 L239.3,37.2 L239.8,37.2 L240.2,37.3 L240.7,37.3 L241.1,37.4 L241.5,37.4 L242.0,37.5 L242.4,37.6 L242.9,37.7 L243.3,37.8 L243.8,37.9 L244.2,38.0 L244.6,38.1 L245.1,38.2 L245.5,38.3 L246.0,38.4 L246.4,38.5 L246.8,38.5 L247.3,38.6 L247.7,38.7 L248.2,38.7 L248.6,38.8 L249.1,38.9 L249.5,38.9 L249.9,39.0 L250.4,39.1 L250.8,39.2 L251.3,39.2 L251.7,39.3 L252.1,39.4 L252.6,39.5 L253.0,39.5 L253.5,39.6 L253.9,39.7 L254.3,39.8 L254.8,39.9 L255.2,39.9 L255.7,40.0 L256.1,40.1 L256.6,40.2 L257.0,40.3 L257.5,40.4 L257.9,40.5 L258.4,40.6 L258.8,40.6 L259.3,40.7 L259.7,40.9 L260.2,41.0 L260.6,41.1 L261.0,41.2 L261.4,41.4 L261.8,41.5 L262.1,41.7 L262.5,41.9 L262.8,42.1 L263.2,42.4 L263.5,42.7 L263.8,43.0 L264.1,43.3 L264.4,43.7 L264.7,44.0 L265.0,44.4 L265.3,44.8 L265.6,45.1 L265.9,45.5 L266.2,45.8 L266.5,46.2 L266.8,46.5 L267.1,46.8 L267.4,47.2 L267.7,47.6 L267.9,47.9 L268.2,48.3 L268.5,48.7 L268.8,49.0 L269.0,49.4 L269.3,49.7 L269.6,50.1 L269.9,50.4 L270.2,50.7 L270.5,51.0 L270.8,51.3 L271.2,51.6 L271.5,51.9 L271.9,52.1 L272.2,52.4 L272.6,52.6 L273.0,52.9 L273.3,53.1 L273.7,53.3 L274.1,53.5 L274.5,53.8 L274.9,54.0 L275.3,54.2 L275.7,54.4 L276.2,54.6 L276.6,54.8 L277.0,55.0 L277.4,55.2 L277.8,55.4 L278.2,55.5 L278.6,55.7 L279.0,55.9 L279.4,56.0 L279.8,56.2 L280.3,56.4 L280.7,56.6 L281.1,56.7 L281.5,56.9 L282.0,57.0 L282.4,57.2 L282.8,57.3 L283.2,57.4 L283.7,57.5 L284.1,57.6 L284.5,57.7 L285.0,57.8 L285.4,57.9 L285.8,58.0 L286.3,58.1 L286.7,58.1 L287.2,58.2 L287.6,58.3 L288.1,58.4 L288.5,58.4 L288.9,58.5 L289.4,58.6 L289.8,58.6 L290.3,58.7 L290.7,58.7 L291.2,58.8 L291.6,58.8 L292.1,58.8 L292.5,58.9 L293.0,58.9 L293.4,58.9 L293.9,58.9 L294.3,58.9 L294.7,58.9 L295.2,58.9 L295.6,58.9 L296.1,58.9 L296.5,58.8 L297.0,58.8 L297.4,58.8 L297.9,58.7 L298.3,58.7 L298.7,58.7 L299.2,58.6 L299.6,58.6 L300.1,58.5 L300.5,58.5 L301.0,58.4 L301.4,58.3 L301.9,58.3 L302.3,58.2 L302.8,58.1 L303.2,58.0" fill="none" stroke="#1b43a5" stroke-width="2.1" stroke-dasharray="7.3 1.6 3.8 1.6" stroke-linejoin="round" clip-path="url(#i1)"/>
<rect x="152.1" y="26.1" width="151.1" height="51.2" fill="none" stroke="#505050" stroke-width="0.65"/>
<line x1="159.8" y1="77.30000000000001" x2="159.8" y2="74.80000000000001" stroke="#444" stroke-width="0.8"/>
<line x1="159.8" y1="26.1" x2="159.8" y2="28.6" stroke="#444" stroke-width="0.8"/>
<line x1="212" y1="77.30000000000001" x2="212" y2="74.80000000000001" stroke="#444" stroke-width="0.8"/>
<line x1="212" y1="26.1" x2="212" y2="28.6" stroke="#444" stroke-width="0.8"/>
<line x1="264.5" y1="77.30000000000001" x2="264.5" y2="74.80000000000001" stroke="#444" stroke-width="0.8"/>
<line x1="264.5" y1="26.1" x2="264.5" y2="28.6" stroke="#444" stroke-width="0.8"/>
<line x1="152.1" y1="37.4" x2="154.6" y2="37.4" stroke="#444" stroke-width="0.8"/>
<line x1="303.2" y1="37.4" x2="300.7" y2="37.4" stroke="#444" stroke-width="0.8"/>
<line x1="152.1" y1="48.6" x2="154.6" y2="48.6" stroke="#444" stroke-width="0.8"/>
<line x1="303.2" y1="48.6" x2="300.7" y2="48.6" stroke="#444" stroke-width="0.8"/>
<line x1="152.1" y1="60.3" x2="154.6" y2="60.3" stroke="#444" stroke-width="0.8"/>
<line x1="303.2" y1="60.3" x2="300.7" y2="60.3" stroke="#444" stroke-width="0.8"/>
<line x1="152.1" y1="72.0" x2="154.6" y2="72.0" stroke="#444" stroke-width="0.8"/>
<line x1="303.2" y1="72.0" x2="300.7" y2="72.0" stroke="#444" stroke-width="0.8"/>
<rect x="158.3" y="184.6" width="150.4" height="61.9" fill="#fff"/>
<line x1="160.8" y1="184.6" x2="160.8" y2="246.5" stroke="#e3e3e3" stroke-width="1"/>
<line x1="217.1" y1="184.6" x2="217.1" y2="246.5" stroke="#e3e3e3" stroke-width="1"/>
<line x1="273.5" y1="184.6" x2="273.5" y2="246.5" stroke="#e3e3e3" stroke-width="1"/>
<line x1="158.3" y1="192.3" x2="308.70000000000005" y2="192.3" stroke="#e3e3e3" stroke-width="1"/>
<line x1="158.3" y1="204.9" x2="308.70000000000005" y2="204.9" stroke="#e3e3e3" stroke-width="1"/>
<line x1="158.3" y1="217.5" x2="308.70000000000005" y2="217.5" stroke="#e3e3e3" stroke-width="1"/>
<line x1="158.3" y1="230.0" x2="308.70000000000005" y2="230.0" stroke="#e3e3e3" stroke-width="1"/>
<line x1="158.3" y1="242.5" x2="308.70000000000005" y2="242.5" stroke="#e3e3e3" stroke-width="1"/>
<path d="M176.8,170.0 L176.8,170.6 L176.8,171.2 L176.9,171.7 L176.9,172.3 L176.9,172.9 L176.9,173.5 L176.9,174.0 L177.0,174.6 L177.0,175.2 L177.0,175.8 L177.0,176.3 L177.1,176.9 L177.1,177.5 L177.1,178.1 L177.1,178.7 L177.2,179.2 L177.2,179.8 L177.2,180.4 L177.3,181.0 L177.3,181.5 L177.3,182.1 L177.3,182.7 L177.4,183.3 L177.4,183.8 L177.4,184.4 L177.5,185.0 L177.5,185.6 L177.5,186.1 L177.5,186.7 L177.6,187.3 L177.6,187.9 L177.6,188.5 L177.7,189.0 L177.7,189.6 L177.7,190.2 L177.8,190.8 L177.8,191.3 L177.8,191.9 L177.9,192.5 L177.9,193.1 L177.9,193.6 L178.0,194.2 L178.0,194.8 L178.0,195.4 L178.1,196.0 L178.1,196.5 L178.1,197.1 L178.2,197.7 L178.2,198.3 L178.2,198.8 L178.3,199.4 L178.3,200.0 L178.4,200.6 L178.4,201.1 L178.4,201.7 L178.5,202.3 L178.5,202.9 L178.6,203.4 L178.6,204.0 L178.7,204.6 L178.7,205.2 L178.7,205.7 L178.8,206.3 L178.8,206.9 L178.9,207.5 L178.9,208.0 L179.0,208.6 L179.0,209.2 L179.1,209.8 L179.1,210.3 L179.2,210.9 L179.2,211.5 L179.3,212.1 L179.4,212.6 L179.4,213.2 L179.5,213.8 L179.5,214.4 L179.6,215.0 L179.7,215.6 L179.7,216.1 L179.8,216.7 L179.9,217.3 L180.0,217.9 L180.0,218.4 L180.1,219.0 L180.2,219.6 L180.3,220.1 L180.4,220.7 L180.5,221.2 L180.7,221.8 L180.8,222.3 L180.9,222.9 L181.1,223.4 L181.3,224.0 L181.6,224.5 L181.8,225.1 L182.1,225.6 L182.4,226.1 L182.7,226.7 L183.0,227.2 L183.3,227.6 L183.6,228.1 L183.9,228.5 L184.3,228.9 L184.6,229.4 L185.0,229.8 L185.4,230.1 L185.8,230.5 L186.3,230.9 L186.7,231.3 L187.2,231.6 L187.7,232.0 L188.2,232.3 L188.7,232.6 L189.2,233.0 L189.7,233.3 L190.2,233.6 L190.7,233.9 L191.2,234.2 L191.7,234.5 L192.2,234.8 L192.7,235.1 L193.2,235.4 L193.7,235.7 L194.2,236.0 L194.7,236.2 L195.2,236.5 L195.8,236.8 L196.3,237.1 L196.8,237.4 L197.3,237.6 L197.9,237.9 L198.4,238.1 L198.9,238.3 L199.5,238.6 L200.0,238.7 L200.6,238.9 L201.1,239.1 L201.6,239.2 L202.2,239.3 L202.8,239.4 L203.3,239.5 L203.9,239.6 L204.5,239.7 L205.0,239.8 L205.6,239.9 L206.2,240.0 L206.8,240.1 L207.4,240.1 L208.0,240.2 L208.5,240.2 L209.1,240.3 L209.7,240.3 L210.2,240.3 L210.8,240.3 L211.4,240.3 L211.9,240.2 L212.5,240.1 L213.1,240.0 L213.7,239.8 L214.2,239.6 L214.8,239.5 L215.4,239.2 L215.9,239.0 L216.5,238.8 L217.0,238.5 L217.6,238.3 L218.1,238.0 L218.6,237.8 L219.1,237.5 L219.5,237.3 L220.0,237.0 L220.5,236.7 L221.0,236.3 L221.4,235.9 L221.9,235.5 L222.3,235.1 L222.8,234.7 L223.2,234.3 L223.6,233.8 L223.9,233.3 L224.3,232.9 L224.6,232.4 L224.8,231.9 L225.1,231.5 L225.3,231.0 L225.5,230.4 L225.7,229.9 L225.8,229.4 L226.0,228.8 L226.1,228.2 L226.3,227.7 L226.4,227.1 L226.6,226.5 L226.7,225.9 L226.9,225.3 L227.0,224.8 L227.2,224.2 L227.3,223.6 L227.5,223.1 L227.7,222.5 L227.9,222.0 L228.1,221.5 L228.3,220.9 L228.5,220.3 L228.7,219.8 L229.0,219.2 L229.2,218.7 L229.4,218.1 L229.6,217.6 L229.9,217.0 L230.1,216.5 L230.4,216.0 L230.7,215.5 L230.9,215.0 L231.2,214.6 L231.5,214.1 L231.8,213.7 L232.2,213.3 L232.6,212.8 L233.0,212.4 L233.4,212.0 L233.8,211.7 L234.3,211.3 L234.7,210.9 L235.2,210.5 L235.7,210.2 L236.2,209.8 L236.7,209.5 L237.2,209.2 L237.7,208.9 L238.1,208.5 L238.6,208.2 L239.1,207.9 L239.6,207.6 L240.1,207.3 L240.6,207.1 L241.1,206.8 L241.6,206.5 L242.1,206.2 L242.7,206.0 L243.2,205.7 L243.7,205.4 L244.2,205.2 L244.8,205.0 L245.3,204.7 L245.8,204.5 L246.4,204.3 L246.9,204.1 L247.4,203.9 L248.0,203.8 L248.5,203.6 L249.1,203.4 L249.6,203.2 L250.2,203.1 L250.7,202.9 L251.3,202.8 L251.8,202.6 L252.4,202.5 L253.0,202.3 L253.5,202.2 L254.1,202.0 L254.7,201.9 L255.2,201.8 L255.8,201.6 L256.4,201.5 L256.9,201.4 L257.5,201.3 L258.1,201.2 L258.6,201.1 L259.2,201.0 L259.8,200.9 L260.3,200.8 L260.9,200.7 L261.5,200.6 L262.0,200.5 L262.6,200.5 L263.2,200.4 L263.8,200.3 L264.3,200.3 L264.9,200.2 L265.5,200.1 L266.1,200.1 L266.6,200.0 L267.2,200.0 L267.8,199.9 L268.4,199.8 L268.9,199.8 L269.5,199.7 L270.1,199.7 L270.7,199.6 L271.2,199.6 L271.8,199.5 L272.4,199.4 L273.0,199.4 L273.5,199.3 L274.1,199.2 L274.7,199.2 L275.3,199.1 L275.9,199.1 L276.5,199.0 L277.1,199.0 L277.7,198.9 L278.2,198.8 L278.8,198.8 L279.4,198.7 L280.0,198.6 L280.5,198.6 L281.1,198.5 L281.6,198.4 L282.1,198.2 L282.7,198.1 L283.2,197.8 L283.6,197.5 L284.1,197.2 L284.6,196.8 L285.0,196.4 L285.5,196.0 L285.9,195.6 L286.4,195.1 L286.8,194.5 L287.2,194.1 L287.6,193.8 L288.0,193.8 L288.3,194.0 L288.7,194.3 L289.0,194.8 L289.4,195.4 L289.7,196.0 L290.0,196.6 L290.2,197.3 L290.4,197.9 L290.6,198.5 L290.7,199.0 L290.8,199.6 L290.9,200.1 L291.0,200.7 L291.1,201.2 L291.1,201.8 L291.2,202.4 L291.3,203.0 L291.3,203.5 L291.4,204.1 L291.4,204.7 L291.5,205.3 L291.5,205.9 L291.6,206.5 L291.6,207.1 L291.7,207.6 L291.7,208.2 L291.8,208.8 L291.8,209.4 L291.9,210.0 L292.0,210.6 L292.1,211.1 L292.2,211.7 L292.3,212.3 L292.4,212.8 L292.5,213.4 L292.6,214.0 L292.7,214.6 L292.9,215.2 L293.0,215.7 L293.2,216.3 L293.3,216.9 L293.5,217.4 L293.7,218.0 L293.9,218.5 L294.1,219.0 L294.3,219.5 L294.6,220.0 L294.9,220.4 L295.2,220.9 L295.6,221.3 L296.0,221.8 L296.5,222.2 L296.9,222.6 L297.4,223.0 L297.9,223.4 L298.3,223.7 L298.8,224.0 L299.3,224.3 L299.7,224.6 L300.2,224.8 L300.7,225.1 L301.2,225.3 L301.7,225.6 L302.2,225.8 L302.7,226.1 L303.3,226.3 L303.8,226.5 L304.4,226.7 L304.9,226.9 L305.5,227.1 L306.1,227.2 L306.7,227.4 L307.3,227.5 L307.9,227.6 L308.5,227.7" fill="none" stroke="#ec2b1d" stroke-width="2.1" stroke-dasharray="7.5 6.8" stroke-linejoin="round" clip-path="url(#i2)"/>
<path d="M158.3,211.5 L158.8,211.5 L159.4,211.5 L159.9,211.5 L160.4,211.6 L160.9,211.6 L161.3,211.6 L161.8,211.7 L162.3,211.7 L162.7,211.8 L163.1,211.9 L163.5,211.9 L163.9,212.0 L164.3,212.2 L164.7,212.5 L165.1,212.8 L165.4,213.1 L165.8,213.5 L166.1,213.9 L166.4,214.3 L166.6,214.7 L166.9,215.1 L167.1,215.5 L167.3,216.0 L167.5,216.4 L167.7,216.9 L167.8,217.4 L168.0,217.8 L168.3,218.2 L168.5,218.6 L168.8,218.9 L169.1,219.2 L169.5,219.5 L169.9,219.8 L170.3,220.1 L170.8,220.3 L171.2,220.6 L171.6,220.8 L172.0,221.1 L172.4,221.4 L172.7,221.7 L173.0,222.0 L173.3,222.4 L173.5,222.7 L173.7,223.1 L173.9,223.5 L174.1,224.0 L174.3,224.4 L174.5,224.8 L174.6,225.3 L174.8,225.7 L175.0,226.2 L175.1,226.7 L175.3,227.1 L175.5,227.6 L175.6,228.1 L175.8,228.5 L176.0,229.0 L176.2,229.4 L176.4,229.9 L176.6,230.3 L176.8,230.9 L177.0,231.4 L177.2,232.0 L177.4,232.5 L177.6,233.0 L177.8,233.5 L178.0,233.8 L178.3,234.0 L178.5,234.1 L178.7,234.0 L179.0,233.8 L179.2,233.4 L179.5,232.9 L179.8,232.4 L180.1,231.8 L180.4,231.3 L180.7,230.8 L181.0,230.3 L181.3,230.0 L181.6,229.8 L182.0,229.7 L182.4,229.7 L182.7,229.7 L183.2,229.7 L183.6,229.8 L184.0,229.8 L184.5,229.8 L185.0,229.9 L185.5,229.9 L186.0,229.9 L186.5,230.0 L187.0,230.0 L187.5,230.1 L188.0,230.1 L188.5,230.2 L189.0,230.2 L189.5,230.3 L190.0,230.3 L190.5,230.4 L191.0,230.4 L191.5,230.5 L191.9,230.5 L192.4,230.6 L192.9,230.7 L193.3,230.7 L193.8,230.8 L194.3,230.9 L194.7,230.9 L195.2,231.0 L195.7,231.1 L196.2,231.2 L196.6,231.2 L197.1,231.3 L197.6,231.4 L198.0,231.5 L198.5,231.5 L199.0,231.6 L199.4,231.7 L199.9,231.7 L200.4,231.8 L200.9,231.8 L201.3,231.9 L201.8,231.9 L202.3,231.9 L202.7,232.0 L203.2,232.0 L203.7,232.0 L204.1,232.0 L204.6,232.0 L205.1,232.0 L205.6,231.9 L206.0,231.9 L206.5,231.9 L207.0,231.8 L207.5,231.8 L208.0,231.7 L208.4,231.6 L208.9,231.6 L209.4,231.5 L209.9,231.4 L210.3,231.3 L210.8,231.2 L211.3,231.1 L211.7,231.0 L212.2,230.9 L212.6,230.8 L213.0,230.7 L213.5,230.6 L213.9,230.4 L214.4,230.3 L214.8,230.1 L215.3,229.9 L215.7,229.7 L216.2,229.5 L216.6,229.2 L217.1,229.0 L217.5,228.7 L217.9,228.4 L218.3,228.2 L218.7,227.9 L219.1,227.6 L219.4,227.3 L219.8,227.0 L220.1,226.7 L220.4,226.4 L220.7,226.1 L221.0,225.7 L221.3,225.4 L221.5,225.0 L221.8,224.6 L222.0,224.2 L222.2,223.8 L222.5,223.4 L222.7,223.0 L222.9,222.5 L223.1,222.1 L223.4,221.6 L223.6,221.2 L223.8,220.7 L224.0,220.3 L224.2,219.9 L224.4,219.4 L224.6,219.0 L224.9,218.6 L225.1,218.1 L225.3,217.7 L225.5,217.2 L225.7,216.8 L225.9,216.3 L226.1,215.9 L226.3,215.5 L226.5,215.0 L226.7,214.7 L227.0,214.3 L227.2,213.9 L227.5,213.6 L227.9,213.3 L228.2,213.0 L228.5,212.7 L228.9,212.4 L229.3,212.1 L229.7,211.8 L230.1,211.6 L230.5,211.3 L231.0,211.0 L231.4,210.8 L231.8,210.6 L232.3,210.3 L232.7,210.1 L233.1,209.9 L233.6,209.7 L234.0,209.5 L234.4,209.3 L234.8,209.2 L235.3,209.0 L235.7,208.8 L236.2,208.7 L236.6,208.5 L237.1,208.4 L237.5,208.2 L238.0,208.1 L238.5,208.0 L238.9,207.8 L239.4,207.7 L239.8,207.6 L240.3,207.5 L240.8,207.3 L241.2,207.2 L241.7,207.0 L242.2,206.9 L242.6,206.8 L243.1,206.7 L243.6,206.6 L244.0,206.5 L244.5,206.4 L244.9,206.4 L245.4,206.3 L245.9,206.3 L246.3,206.3 L246.8,206.4 L247.3,206.5 L247.7,206.6 L248.2,206.8 L248.7,207.0 L249.1,207.2 L249.6,207.4 L250.0,207.6 L250.4,207.9 L250.8,208.1 L251.2,208.4 L251.5,208.6 L251.8,208.9 L252.1,209.2 L252.4,209.5 L252.7,209.9 L252.9,210.3 L253.2,210.7 L253.4,211.1 L253.7,211.6 L253.9,212.0 L254.1,212.5 L254.4,212.9 L254.6,213.4 L254.8,213.8 L255.1,214.2 L255.4,214.6 L255.6,215.0 L255.9,215.4 L256.2,215.8 L256.6,216.2 L256.9,216.7 L257.2,217.1 L257.5,217.5 L257.9,217.9 L258.2,218.2 L258.6,218.4 L259.0,218.5 L259.3,218.5 L259.7,218.5 L260.1,218.4 L260.6,218.3 L261.0,218.1 L261.4,218.0 L261.9,217.8 L262.3,217.6 L262.8,217.4 L263.3,217.2 L263.7,217.0 L264.2,216.8 L264.7,216.6 L265.1,216.4 L265.6,216.2 L266.1,216.1 L266.5,215.9 L267.0,215.8 L267.4,215.6 L267.9,215.5 L268.4,215.4 L268.8,215.2 L269.3,215.1 L269.8,215.0 L270.3,214.8 L270.8,214.7 L271.2,214.6 L271.7,214.4 L272.2,214.3 L272.7,214.2 L273.1,214.1 L273.6,214.0 L274.1,213.9 L274.5,213.8 L275.0,213.7 L275.4,213.7 L275.9,213.6 L276.3,213.6 L276.7,213.6 L277.1,213.6 L277.5,213.7 L277.9,213.9 L278.3,214.2 L278.7,214.5 L279.1,214.8 L279.5,215.1 L279.8,215.5 L280.2,215.9 L280.6,216.2 L281.0,216.5 L281.4,216.8 L281.8,217.1 L282.1,217.4 L282.5,217.6 L282.9,217.9 L283.4,218.2 L283.8,218.5 L284.2,218.7 L284.6,219.0 L285.0,219.3 L285.3,219.6 L285.7,219.9 L286.1,220.2 L286.5,220.5 L286.8,220.8 L287.1,221.1 L287.4,221.4 L287.7,221.7 L288.0,222.1 L288.3,222.5 L288.5,222.8 L288.8,223.2 L289.0,223.7 L289.2,224.1 L289.4,224.5 L289.6,225.0 L289.8,225.4 L290.1,225.8 L290.3,226.3 L290.5,226.7 L290.7,227.1 L291.0,227.5 L291.2,227.9 L291.5,228.4 L291.8,228.9 L292.1,229.4 L292.4,229.7 L292.7,229.9 L293.0,229.9 L293.4,229.8 L293.8,229.7 L294.3,229.5 L294.7,229.4 L295.2,229.2 L295.7,229.0 L296.2,228.8 L296.7,228.6 L297.2,228.5 L297.6,228.4 L298.1,228.4 L298.6,228.3 L299.0,228.3 L299.5,228.2 L299.9,228.2 L300.4,228.1 L300.9,228.1 L301.3,228.0 L301.8,228.0 L302.3,227.9 L302.8,227.9 L303.2,227.9 L303.7,227.9 L304.2,227.8 L304.7,227.8 L305.1,227.8 L305.6,227.8 L306.1,227.7 L306.6,227.7 L307.0,227.7 L307.5,227.7 L308.0,227.7 L308.5,227.7" fill="none" stroke="#1b43a5" stroke-width="2.1" stroke-dasharray="7.3 1.6 3.8 1.6" stroke-linejoin="round" clip-path="url(#i2)"/>
<rect x="158.3" y="184.6" width="150.4" height="61.9" fill="none" stroke="#505050" stroke-width="0.65"/>
<line x1="160.8" y1="246.5" x2="160.8" y2="244.0" stroke="#444" stroke-width="0.8"/>
<line x1="160.8" y1="184.6" x2="160.8" y2="187.1" stroke="#444" stroke-width="0.8"/>
<line x1="217.1" y1="246.5" x2="217.1" y2="244.0" stroke="#444" stroke-width="0.8"/>
<line x1="217.1" y1="184.6" x2="217.1" y2="187.1" stroke="#444" stroke-width="0.8"/>
<line x1="273.5" y1="246.5" x2="273.5" y2="244.0" stroke="#444" stroke-width="0.8"/>
<line x1="273.5" y1="184.6" x2="273.5" y2="187.1" stroke="#444" stroke-width="0.8"/>
<line x1="158.3" y1="192.3" x2="160.8" y2="192.3" stroke="#444" stroke-width="0.8"/>
<line x1="308.70000000000005" y1="192.3" x2="306.20000000000005" y2="192.3" stroke="#444" stroke-width="0.8"/>
<line x1="158.3" y1="204.9" x2="160.8" y2="204.9" stroke="#444" stroke-width="0.8"/>
<line x1="308.70000000000005" y1="204.9" x2="306.20000000000005" y2="204.9" stroke="#444" stroke-width="0.8"/>
<line x1="158.3" y1="217.5" x2="160.8" y2="217.5" stroke="#444" stroke-width="0.8"/>
<line x1="308.70000000000005" y1="217.5" x2="306.20000000000005" y2="217.5" stroke="#444" stroke-width="0.8"/>
<line x1="158.3" y1="230.0" x2="160.8" y2="230.0" stroke="#444" stroke-width="0.8"/>
<line x1="308.70000000000005" y1="230.0" x2="306.20000000000005" y2="230.0" stroke="#444" stroke-width="0.8"/>
<line x1="158.3" y1="242.5" x2="160.8" y2="242.5" stroke="#444" stroke-width="0.8"/>
<line x1="308.70000000000005" y1="242.5" x2="306.20000000000005" y2="242.5" stroke="#444" stroke-width="0.8"/>
<line x1="305" y1="62.7" x2="340.6" y2="81.0" stroke="#222" stroke-width="1.15"/>
<polygon points="348.8,84.0 339.6,74.8 340.6,81.0 334.4,82.2" fill="#1a1a1a"/>
<line x1="312" y1="227.5" x2="351.6" y2="250.7" stroke="#222" stroke-width="1.15"/>
<polygon points="358.8,254.8 350.7,245.1 351.6,250.7 345.1,252.2" fill="#1a1a1a"/>
<rect x="376.3" y="7.3" width="61.7" height="24.8" fill="#fff" stroke="#555" stroke-width="0.9"/>
<line x1="380.3" y1="14.3" x2="417.5" y2="14.3" stroke="#ec2b1d" stroke-width="2.1" stroke-dasharray="7.5 7"/>
<line x1="380.3" y1="25.4" x2="418.5" y2="25.4" stroke="#1b43a5" stroke-width="2.1" stroke-dasharray="7.3 1.6 3.8 1.6"/>
<text x="422.2" y="16.8" font-family="'Liberation Serif',serif" font-size="11.4" font-style="italic" fill="#2a2a2a" stroke="#2a2a2a" stroke-width="0.15">z<tspan font-size="6.4" font-style="normal" dy="1.9" dx="0.3">11</tspan></text>
<text x="422.2" y="27.9" font-family="'Liberation Serif',serif" font-size="11.4" font-style="italic" fill="#2a2a2a" stroke="#2a2a2a" stroke-width="0.15">z<tspan font-size="6.4" font-style="normal" dy="1.9" dx="0.3">12</tspan></text>
<rect x="376.3" y="174.9" width="61.7" height="25.7" fill="#fff" stroke="#555" stroke-width="0.9"/>
<line x1="380.3" y1="182.2" x2="417.5" y2="182.2" stroke="#ec2b1d" stroke-width="2.1" stroke-dasharray="7.5 7"/>
<line x1="380.3" y1="193.7" x2="418.5" y2="193.7" stroke="#1b43a5" stroke-width="2.1" stroke-dasharray="7.3 1.6 3.8 1.6"/>
<text x="422.2" y="184.7" font-family="'Liberation Serif',serif" font-size="11.4" font-style="italic" fill="#2a2a2a" stroke="#2a2a2a" stroke-width="0.15">z<tspan font-size="6.4" font-style="normal" dy="1.9" dx="0.3">11</tspan></text>
<text x="422.2" y="196.2" font-family="'Liberation Serif',serif" font-size="11.4" font-style="italic" fill="#2a2a2a" stroke="#2a2a2a" stroke-width="0.15">z<tspan font-size="6.4" font-style="normal" dy="1.9" dx="0.3">12</tspan></text>
<text x="31.6" y="8.9" font-family="'Liberation Sans',sans-serif" font-size="10.8" text-anchor="end" fill="#1a1a1a" stroke="#1a1a1a" stroke-width="0.27">1</text>
<text x="31.6" y="52.9" font-family="'Liberation Sans',sans-serif" font-size="10.8" text-anchor="end" fill="#1a1a1a" stroke="#1a1a1a" stroke-width="0.27">0.5</text>
<text x="31.6" y="96.3" font-family="'Liberation Sans',sans-serif" font-size="10.8" text-anchor="end" fill="#1a1a1a" stroke="#1a1a1a" stroke-width="0.27">0</text>
<text x="31.6" y="191.19999999999996" font-family="'Liberation Sans',sans-serif" font-size="10.8" text-anchor="end" fill="#1a1a1a" stroke="#1a1a1a" stroke-width="0.27">0.8</text>
<text x="31.6" y="209.79999999999995" font-family="'Liberation Sans',sans-serif" font-size="10.8" text-anchor="end" fill="#1a1a1a" stroke="#1a1a1a" stroke-width="0.27">0.6</text>
<text x="31.6" y="228.39999999999998" font-family="'Liberation Sans',sans-serif" font-size="10.8" text-anchor="end" fill="#1a1a1a" stroke="#1a1a1a" stroke-width="0.27">0.4</text>
<text x="31.6" y="246.99999999999997" font-family="'Liberation Sans',sans-serif" font-size="10.8" text-anchor="end" fill="#1a1a1a" stroke="#1a1a1a" stroke-width="0.27">0.2</text>
<text x="31.6" y="265.59999999999997" font-family="'Liberation Sans',sans-serif" font-size="10.8" text-anchor="end" fill="#1a1a1a" stroke="#1a1a1a" stroke-width="0.27">0</text>
<text x="31.6" y="284.2" font-family="'Liberation Sans',sans-serif" font-size="10.8" text-anchor="end" fill="#1a1a1a" stroke="#1a1a1a" stroke-width="0.27">-0.2</text>
<text x="35.7" y="135.8" font-family="'Liberation Sans',sans-serif" font-size="10.8" text-anchor="middle" fill="#1a1a1a" stroke="#1a1a1a" stroke-width="0.27">0</text>
<text x="35.6" y="302.9" font-family="'Liberation Sans',sans-serif" font-size="10.8" text-anchor="middle" fill="#1a1a1a" stroke="#1a1a1a" stroke-width="0.27">0</text>
<text x="171.05" y="135.8" font-family="'Liberation Sans',sans-serif" font-size="10.8" text-anchor="middle" fill="#1a1a1a" stroke="#1a1a1a" stroke-width="0.27">5</text>
<text x="173.35" y="302.9" font-family="'Liberation Sans',sans-serif" font-size="10.8" text-anchor="middle" fill="#1a1a1a" stroke="#1a1a1a" stroke-width="0.27">5</text>
<text x="305.8" y="135.8" font-family="'Liberation Sans',sans-serif" font-size="10.8" text-anchor="middle" fill="#1a1a1a" stroke="#1a1a1a" stroke-width="0.27">10</text>
<text x="310.7" y="302.9" font-family="'Liberation Sans',sans-serif" font-size="10.8" text-anchor="middle" fill="#1a1a1a" stroke="#1a1a1a" stroke-width="0.27">10</text>
<text x="440.55" y="135.8" font-family="'Liberation Sans',sans-serif" font-size="10.8" text-anchor="middle" fill="#1a1a1a" stroke="#1a1a1a" stroke-width="0.27">15</text>
<text x="448.04999999999995" y="302.9" font-family="'Liberation Sans',sans-serif" font-size="10.8" text-anchor="middle" fill="#1a1a1a" stroke="#1a1a1a" stroke-width="0.27">15</text>
<text x="148.5" y="42.0" font-family="'Liberation Sans',sans-serif" font-size="10.8" text-anchor="end" fill="#1a1a1a" stroke="#1a1a1a" stroke-width="0.27">5</text>
<text x="148.5" y="52.699999999999996" font-family="'Liberation Sans',sans-serif" font-size="10.8" text-anchor="end" fill="#1a1a1a" stroke="#1a1a1a" stroke-width="0.27">0</text>
<text x="148.5" y="64.4" font-family="'Liberation Sans',sans-serif" font-size="10.8" text-anchor="end" fill="#1a1a1a" stroke="#1a1a1a" stroke-width="0.27">-5</text>
<text x="148.5" y="76.0" font-family="'Liberation Sans',sans-serif" font-size="10.8" text-anchor="end" fill="#1a1a1a" stroke="#1a1a1a" stroke-width="0.27">-10</text>
<text x="155.2" y="196.8" font-family="'Liberation Sans',sans-serif" font-size="10.8" text-anchor="end" fill="#1a1a1a" stroke="#1a1a1a" stroke-width="0.27">4</text>
<text x="155.2" y="209.4" font-family="'Liberation Sans',sans-serif" font-size="10.8" text-anchor="end" fill="#1a1a1a" stroke="#1a1a1a" stroke-width="0.27">2</text>
<text x="155.2" y="222.0" font-family="'Liberation Sans',sans-serif" font-size="10.8" text-anchor="end" fill="#1a1a1a" stroke="#1a1a1a" stroke-width="0.27">0</text>
<text x="155.2" y="234.0" font-family="'Liberation Sans',sans-serif" font-size="10.8" text-anchor="end" fill="#1a1a1a" stroke="#1a1a1a" stroke-width="0.27">-2</text>
<text x="155.2" y="246.5" font-family="'Liberation Sans',sans-serif" font-size="10.8" text-anchor="end" fill="#1a1a1a" stroke="#1a1a1a" stroke-width="0.27">-4</text>
<text x="153.1" y="24.1" font-family="'Liberation Sans',sans-serif" font-size="13" fill="#1a1a1a" stroke="#1a1a1a" stroke-width="0.2">×</text>
<text x="161.4" y="23.8" font-family="'Liberation Sans',sans-serif" font-size="10.8" fill="#1a1a1a" stroke="#1a1a1a" stroke-width="0.22">10</text>
<text x="174.4" y="18.9" font-family="'Liberation Sans',sans-serif" font-size="8.8" fill="#1a1a1a" stroke="#1a1a1a" stroke-width="0.22">-5</text>
<text x="159.4" y="182.3" font-family="'Liberation Sans',sans-serif" font-size="13" fill="#1a1a1a" stroke="#1a1a1a" stroke-width="0.2">×</text>
<text x="167.70000000000002" y="182.0" font-family="'Liberation Sans',sans-serif" font-size="10.8" fill="#1a1a1a" stroke="#1a1a1a" stroke-width="0.22">10</text>
<text x="180.70000000000002" y="177.1" font-family="'Liberation Sans',sans-serif" font-size="8.8" fill="#1a1a1a" stroke="#1a1a1a" stroke-width="0.22">-4</text>
<text x="221.0" y="147.6" font-family="'Liberation Serif',serif" font-size="12.6" fill="#1a1a1a" stroke="#1a1a1a" stroke-width="0.2" textLength="41.4" lengthAdjust="spacing">time (s)</text>
<text x="220.4" y="315.2" font-family="'Liberation Serif',serif" font-size="12.6" fill="#1a1a1a" stroke="#1a1a1a" stroke-width="0.2" textLength="41.9" lengthAdjust="spacing">time (s)</text>
<text y="136.8" font-family="'Liberation Serif',serif" font-size="12" fill="#1a1a1a" stroke="#1a1a1a" stroke-width="0.2"><tspan x="61.3">t</tspan><tspan x="65.7" textLength="9.6" lengthAdjust="spacingAndGlyphs" stroke-width="0">=</tspan><tspan x="75.89999999999999" textLength="20.6" lengthAdjust="spacing">1.5s</tspan></text>
<text y="304.0" font-family="'Liberation Serif',serif" font-size="12" fill="#1a1a1a" stroke="#1a1a1a" stroke-width="0.2"><tspan x="89.3">t</tspan><tspan x="93.7" textLength="9.6" lengthAdjust="spacingAndGlyphs" stroke-width="0">=</tspan><tspan x="103.89999999999999" textLength="20.6" lengthAdjust="spacing">2.5s</tspan></text>
<text x="78.19999999999999" y="69.8" font-family="'Liberation Serif',serif" font-size="12.4" font-style="italic" fill="#1a1a1a" stroke="#1a1a1a" stroke-width="0.15" textLength="8.2" lengthAdjust="spacingAndGlyphs">T</text>
<text x="86.3" y="71.89999999999999" font-family="'Liberation Serif',serif" font-size="8.6" fill="#1a1a1a" stroke="#1a1a1a" stroke-width="0.15"><tspan font-style="italic">c</tspan><tspan dx="0.2">1</tspan></text>
<text x="98.8" y="70.39999999999999" font-family="'Liberation Serif',serif" font-size="12.4" fill="#1a1a1a" textLength="8.9" lengthAdjust="spacingAndGlyphs">=</text>
<text x="111.8" y="69.8" font-family="'Liberation Serif',serif" font-size="12.4" fill="#1a1a1a" stroke="#1a1a1a" stroke-width="0.15" textLength="11" lengthAdjust="spacingAndGlyphs">2s</text>
<text x="84.1" y="246.8" font-family="'Liberation Serif',serif" font-size="12.4" font-style="italic" fill="#1a1a1a" stroke="#1a1a1a" stroke-width="0.15" textLength="8.2" lengthAdjust="spacingAndGlyphs">T</text>
<text x="92.2" y="248.9" font-family="'Liberation Serif',serif" font-size="8.6" fill="#1a1a1a" stroke="#1a1a1a" stroke-width="0.15"><tspan font-style="italic">c</tspan><tspan dx="0.2">2</tspan></text>
<text x="104.7" y="247.4" font-family="'Liberation Serif',serif" font-size="12.4" fill="#1a1a1a" textLength="8.9" lengthAdjust="spacingAndGlyphs">=</text>
<text x="117.7" y="246.8" font-family="'Liberation Serif',serif" font-size="12.4" fill="#1a1a1a" stroke="#1a1a1a" stroke-width="0.15" textLength="11" lengthAdjust="spacingAndGlyphs">3s</text>
<text transform="translate(9.8,60.5) rotate(-90)" text-anchor="middle" font-family="'Liberation Serif',serif" font-size="12" font-style="italic" fill="#1a1a1a" stroke="#1a1a1a" stroke-width="0.2">z<tspan font-size="7.5" font-style="normal" dy="2">1</tspan></text>
<text transform="translate(5.6,228.5) rotate(-90)" text-anchor="middle" font-family="'Liberation Serif',serif" font-size="12" font-style="italic" fill="#1a1a1a" stroke="#1a1a1a" stroke-width="0.2">z<tspan font-size="7.5" font-style="normal" dy="2">1</tspan></text>
</svg>
</body></html>
